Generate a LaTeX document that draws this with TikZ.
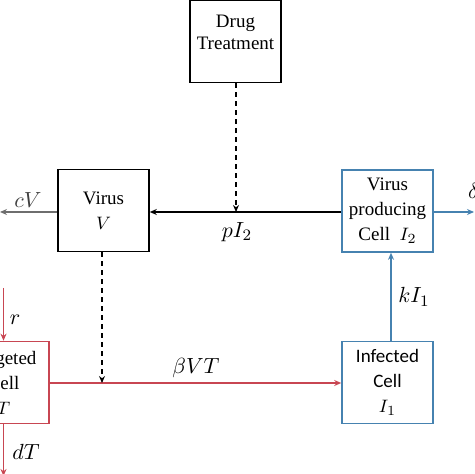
\documentclass[tikz,border=0pt]{standalone}
\usepackage{fontspec}
\setmainfont{Liberation Serif}
\newfontfamily\calfont{Carlito}
\usepackage{amsmath}
\usepackage{xcolor}
\usetikzlibrary{arrows.meta}
\definecolor{cellred}{RGB}{200,70,82}
\definecolor{cellblue}{RGB}{70,130,176}
\definecolor{lossgray}{RGB}{110,110,110}

\begin{document}
\begin{tikzpicture}[x=0.5pt, y=-0.5pt,
  box/.style={draw, line width=0.8pt, minimum width=45.5pt, minimum height=41pt,
    inner sep=0pt, align=center, font=\fontsize{9.5}{12.5}\selectfont},
  flow/.style={line width=0.6pt, -{Stealth[length=3.5pt, width=3pt]}},
  ctrl/.style={flow, dash pattern=on 2.5pt off 2pt},
  rate/.style={font=\fontsize{11}{13}\selectfont}]
  \useasboundingbox (0,0) rectangle (474,474);
  \clip (0,0) rectangle (474,474);
  % caixas
  \node[box] (drug) at (235.5,41.5) {};
  \node[font=\fontsize{9.5}{11}\selectfont, align=center] (drugtxt) at (235.5,32) {Drug\\Treatment};
  \node[box] (virus) at (103.5,210.5) {Virus\\$V$};
  \node[box, draw=cellblue] (prod) at (387.5,211) {Virus\\producing\\Cell\ \ $I_2$};
  \node[box, draw=cellblue, font=\calfont\fontsize{9.5}{12.5}\selectfont] (infected) at (387.5,382.5) {Infected\\Cell\\$I_1$};
  \node[box, draw=cellred] (target) at (3.5,382.5) {Targeted\\Cell\\$T$};
  % pontos livres
  \coordinate (pjoin) at (236,212);
  \coordinate (bjoin) at (102,383);
  \coordinate (cvend) at (0,212);
  \coordinate (deltaend) at (474,212);
  \coordinate (rstart) at (3.5,288);
  \coordinate (dtend) at (3.5,476);
  % virus
  \draw[flow] (prod.west |- pjoin) -- (virus.east |- pjoin);
  \draw[flow, lossgray] (virus.west |- cvend) -- (cvend);
  \node[rate, black!75] (cvlbl) at (28,200) {$cV$};
  \node[rate] (plbl) at (237,232) {$pI_2$};
  \draw[ctrl] (drug.south -| pjoin) -- (pjoin);
  % celulas alvo
  \draw[flow, cellred] (rstart) -- (target.north);
  \draw[flow, cellred] (target.south) -- (dtend);
  \node[rate] (rlbl) at (15,320) {$r$};
  \node[rate] (dtlbl) at (26,452) {$dT$};
  \draw[flow, cellred] (target.east |- bjoin) -- (infected.west |- bjoin);
  \node[rate] (blbl) at (196,368) {$\beta VT$};
  \draw[ctrl] (virus.south -| bjoin) -- (bjoin);
  % celulas infectadas
  \draw[flow, cellblue] (infected.north -| 391,0) -- (prod.south -| 391,0);
  \node[rate] (klbl) at (414,297) {$kI_1$};
  \draw[flow, cellblue] (prod.east |- deltaend) -- (deltaend);
  \node[rate, anchor=west] (dlbl) at (461,193) {$\delta I_2$};
\end{tikzpicture}
\end{document}
